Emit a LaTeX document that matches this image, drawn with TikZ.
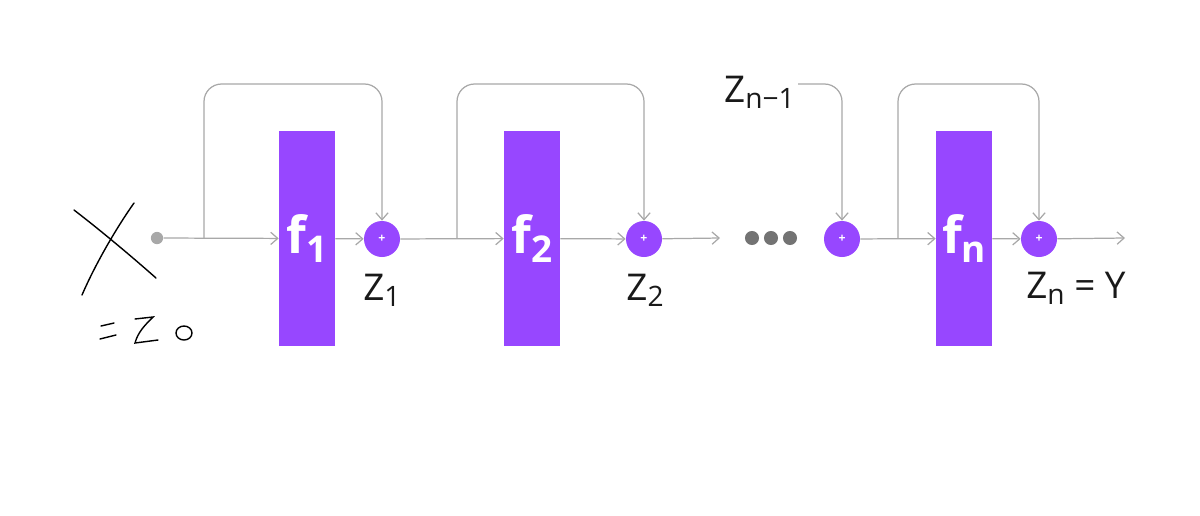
\documentclass[tikz,border=0pt]{standalone}
\usepackage{fontspec}
\setmainfont{Open Sans}
\usetikzlibrary{arrows.meta}
\definecolor{vio}{HTML}{9747FF}
\definecolor{ln}{HTML}{A8A8A8}
\newcommand{\fsub}[2]{#1\raisebox{-0.3ex}{\fontsize{21}{24}\selectfont #2}}
\newcommand{\zsub}[2]{#1\raisebox{-0.3ex}{\fontsize{16}{20}\selectfont #2}}
\begin{document}
\begin{tikzpicture}[x=0.02cm,y=-0.02cm,
  conn/.style={draw=ln,line width=0.7pt,-{Straight Barb[length=4pt,width=7pt]}},
  fbox/.style={fill=vio,minimum width=1.12cm,minimum height=4.3cm,inner sep=0,text=white,font=\fontsize{29}{32}\selectfont\bfseries},
  plus/.style={circle,fill=vio,minimum size=0.72cm,inner sep=0,text=white,font=\fontsize{7}{8}\selectfont\bfseries},
  lab/.style={font=\fontsize{21}{24}\selectfont,text=black!90},
  hand/.style={draw=black,line width=0.8pt,line cap=round}]
\useasboundingbox (0,0) rectangle (1200,515);
\node[circle,fill=ln,minimum size=7pt,inner sep=0] (s) at (157,238) {};
\node[fbox] (f1) at (307,238.5) {\fsub{f}{1}};
\node[fbox] (f2) at (532,238.5) {\fsub{f}{2}};
\node[fbox] (fn) at (964,238.5) {\fsub{f}{n}};
\node[plus] (p1) at (382,239) {+};
\node[plus] (p2) at (644,239) {+};
\node[plus] (p3) at (842,239) {+};
\node[plus] (p4) at (1039,239) {+};
\coordinate (e2) at (720,238);
\coordinate (e4) at (1125,238);
\coordinate (b1) at (204,238);
\coordinate (b2) at (457,238);
\coordinate (b4) at (898,238);
\coordinate (zs) at (798,84);
\foreach \x [count=\i] in {752,771,790} \node[circle,fill=black!55,minimum size=8pt,inner sep=0] (d\i) at (\x,238) {};
\draw[conn] (s) -- (f1);
\draw[conn] (f1) -- (p1);
\draw[conn] (p1) -- (f2);
\draw[conn] (f2) -- (p2);
\draw[conn] (p2) -- (e2);
\draw[conn] (p3) -- (fn);
\draw[conn] (fn) -- (p4);
\draw[conn] (p4) -- (e4);
\draw[conn,rounded corners=10pt] (b1) |- (382,84) -- (p1);
\draw[conn,rounded corners=10pt] (b2) |- (644,84) -- (p2);
\draw[conn,rounded corners=10pt] (b4) |- (1039,84) -- (p4);
\draw[conn,rounded corners=10pt] (zs) -- (842,84) -- (p3);
\node[lab,anchor=west] (zn1) at (718,92) {\zsub{Z}{n−1}};
\node[lab] (z1) at (382,290) {\zsub{Z}{1}};
\node[lab] (z2) at (645,290) {\zsub{Z}{2}};
\node[lab] (zn) at (1076,288) {\zsub{Z}{n} = Y};
% handwriting
\draw[hand] (74,210) .. controls (100,230) and (130,255) .. (156,278);
\draw[hand] (134,203) .. controls (115,230) and (95,265) .. (82,295);
\draw[hand] (101,326) -- (114,323);
\draw[hand] (100,339) -- (116,335);
\draw[hand] (135,319) -- (153,317) .. controls (145,325) and (138,332) .. (135,343) -- (158,340);
\draw[hand] (184,333) circle[x radius=8,y radius=7];
\end{tikzpicture}
\end{document}
